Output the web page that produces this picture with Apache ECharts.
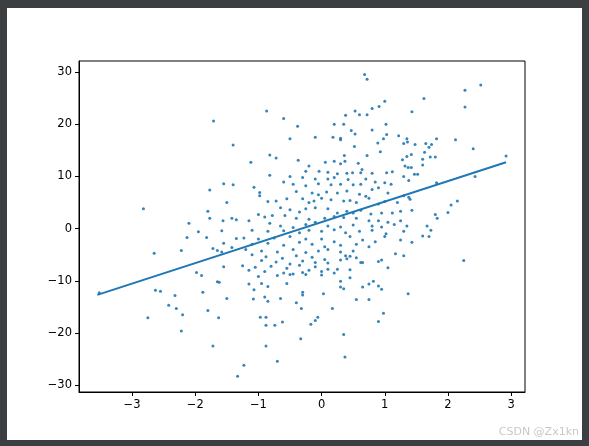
<!DOCTYPE html>
<html><head><meta charset="utf-8">
<script src="https://cdn.jsdelivr.net/npm/echarts@6/dist/echarts.min.js"></script>
<style>
html,body{margin:0;padding:0;background:#3c3f41;width:589px;height:446px;overflow:hidden}
#bg{position:absolute;left:7px;top:8px;width:575px;height:432px;background:#fff}
#c{position:absolute;left:0;top:0;width:589px;height:446px}
#wm{position:absolute;right:10px;bottom:8px;font:11px "DejaVu Sans";color:#c8c8c8}
</style></head><body>
<div id="bg"></div><div id="c"></div><div id="wm">CSDN @Zx1kn</div>
<script>
const points = [[0.68,29.5],[0.72,28.6],[2.52,27.5],[2.27,26.5],[2.27,23.3],[1.62,24.9],[1.0,24.4],[1.43,22.4],[0.91,23.4],[0.8,23.0],[0.53,22.5],[0.6,21.8],[0.72,21.8],[0.38,21.7],[-0.87,22.5],[-0.6,21.1],[-1.71,20.6],[-0.38,19.6],[0.2,20.0],[0.35,20.0],[1.02,20.0],[0.8,18.9],[0.47,18.8],[0.53,18.1],[1.03,18.0],[1.22,17.8],[-0.1,17.5],[0.18,17.5],[0.3,17.3],[0.3,17.0],[-0.5,17.2],[0.98,17.2],[1.35,17.2],[1.36,16.6],[1.82,17.2],[2.12,17.0],[0.89,16.4],[1.3,16.3],[1.48,16.1],[1.65,16.3],[1.74,16.1],[1.7,15.6],[2.4,15.3],[0.52,15.7],[-1.4,16.0],[-0.82,14.1],[-0.72,13.5],[0.36,14.0],[0.72,14.0],[0.93,14.7],[1.28,13.2],[1.35,13.8],[1.42,14.2],[1.63,14.6],[1.72,13.7],[1.8,13.7],[1.6,13.3],[-0.37,13.1],[-1.12,12.7],[0.06,12.7],[0.2,12.9],[0.3,12.4],[0.37,12.9],[0.58,12.5],[0.64,11.3],[1.32,12.0],[1.37,11.7],[1.42,11.7],[1.6,12.2],[-0.2,12.0],[-0.25,11.0],[-0.04,11.0],[0.1,10.8],[0.25,10.5],[0.4,10.6],[0.49,10.7],[0.62,10.7],[0.8,10.6],[1.03,10.7],[1.12,10.9],[1.3,10.0],[1.47,10.4],[1.52,10.4],[-0.82,10.2],[-0.5,10.0],[-0.3,9.8],[-0.1,9.5],[0.1,9.5],[0.2,9.8],[0.42,9.4],[0.7,9.5],[1.38,9.2],[2.43,10.0],[-0.6,8.9],[-0.45,8.5],[-0.25,8.2],[-0.05,8.6],[0.15,8.4],[0.3,8.5],[0.5,8.4],[0.62,8.5],[0.85,8.9],[0.9,7.8],[1.0,8.8],[1.1,8.5],[1.82,8.8],[-1.55,8.6],[-1.4,8.4],[-1.77,7.4],[-1.07,7.9],[-0.98,6.9],[-0.98,6.3],[-0.4,7.1],[-0.15,6.8],[-0.05,6.5],[0.08,7.0],[0.25,6.8],[0.4,7.2],[0.6,6.6],[0.7,6.2],[0.8,7.5],[1.05,6.8],[1.3,6.3],[1.38,6.0],[-1.5,5.0],[-0.85,5.2],[-0.72,5.3],[-0.55,5.7],[-0.3,5.7],[-0.2,5.0],[-0.12,5.3],[0.0,5.8],[0.15,5.5],[0.35,5.3],[0.45,5.4],[0.55,5.0],[0.75,5.8],[0.9,4.7],[1.0,5.2],[1.2,5.0],[1.4,5.6],[2.15,5.3],[2.05,4.5],[-0.65,4.0],[-0.5,3.6],[-0.35,3.2],[-0.25,3.8],[-0.1,4.0],[0.1,3.8],[0.25,3.0],[0.4,3.3],[0.5,3.0],[0.62,3.5],[0.78,2.8],[0.95,3.0],[1.12,3.0],[1.25,3.3],[1.43,3.5],[-2.82,3.8],[-1.8,3.3],[-1.77,2.0],[-1.42,2.0],[-1.35,1.7],[-1.56,1.5],[-1.0,2.7],[-0.9,2.2],[-0.78,2.5],[-0.58,2.5],[-0.4,2.0],[-0.2,1.8],[0.05,2.0],[0.2,2.3],[0.35,2.1],[0.55,2.0],[0.75,1.5],[0.9,1.5],[1.05,1.2],[1.25,1.5],[1.8,2.7],[1.83,2.0],[2.0,3.1],[-2.1,1.0],[-1.15,1.5],[-0.82,1.0],[-0.65,0.5],[-0.45,0.2],[-0.25,0.8],[-0.1,1.2],[0.1,0.5],[0.3,0.3],[0.5,0.7],[0.8,0.5],[0.95,0.3],[1.15,0.8],[1.35,0.5],[1.67,0.5],[-1.58,-0.4],[-1.95,-0.6],[-1.1,-0.3],[-0.85,-0.5],[-0.6,-0.4],[-0.35,-0.8],[-0.2,-0.3],[0.0,-0.5],[0.2,-0.2],[0.38,-0.8],[0.6,-0.5],[0.8,-0.3],[1.02,-1.0],[1.3,-0.5],[1.73,-0.3],[-2.13,-1.7],[-1.82,-1.7],[-1.35,-1.9],[-1.23,-1.8],[-1.0,-2.0],[-0.75,-1.8],[-0.5,-1.5],[-0.25,-2.0],[0.0,-2.0],[0.2,-2.5],[0.45,-1.5],[0.65,-2.2],[0.85,-2.5],[1.0,-1.5],[1.25,-2.2],[1.6,-1.4],[1.7,-1.5],[-1.55,-2.8],[-1.1,-3.0],[-0.85,-2.8],[-0.6,-3.2],[-0.35,-2.6],[-0.15,-3.0],[0.05,-3.5],[0.3,-3.2],[0.55,-3.0],[0.75,-3.5],[1.43,-2.6],[-1.65,-4.2],[-1.72,-3.8],[-1.42,-3.6],[-1.2,-4.0],[-0.95,-4.3],[-0.7,-4.5],[-0.45,-4.0],[-0.25,-4.6],[-0.05,-4.3],[0.1,-4.0],[0.3,-4.5],[0.5,-4.3],[-2.65,-4.7],[-2.22,-4.2],[-1.58,-4.5],[-1.1,-5.0],[-0.88,-5.4],[-0.62,-5.7],[-0.4,-5.2],[-0.15,-5.5],[0.05,-5.9],[0.38,-5.2],[0.4,-5.8],[0.45,-5.3],[0.55,-5.6],[1.3,-5.2],[1.17,-4.8],[2.25,-6.1],[-0.95,-6.1],[-0.72,-6.4],[-0.5,-6.8],[-0.3,-6.2],[-0.1,-6.5],[0.1,-6.6],[0.3,-6.0],[0.62,-6.5],[0.65,-6.5],[0.95,-6.0],[0.9,-6.3],[-1.55,-7.3],[-1.25,-7.1],[-1.05,-7.4],[-0.8,-7.2],[-0.55,-7.6],[-0.35,-7.0],[-0.1,-7.3],[0.1,-7.8],[0.25,-7.8],[0.45,-7.9],[1.05,-7.5],[-1.15,-8.0],[-0.9,-8.2],[-0.6,-8.5],[-0.45,-8.7],[-0.3,-8.4],[-0.2,-8.0],[0.0,-8.2],[-1.98,-8.4],[-1.9,-9.0],[-1.0,-9.2],[-0.7,-9.0],[-0.5,-8.8],[-0.25,-8.8],[0.0,-8.9],[0.2,-8.5],[0.45,-9.4],[-1.65,-10.2],[-1.62,-10.3],[-1.15,-10.6],[-0.95,-10.5],[-0.55,-10.5],[-0.85,-11.1],[-1.07,-11.7],[0.3,-10.1],[0.75,-10.6],[0.82,-10.1],[0.3,-11.2],[0.35,-11.5],[0.65,-11.2],[0.9,-11.0],[0.95,-11.6],[-2.63,-11.8],[-2.55,-12.0],[-1.88,-12.2],[-0.3,-12.2],[-0.3,-12.7],[0.03,-12.5],[1.37,-12.5],[-2.32,-12.8],[-1.5,-13.4],[-1.08,-13.5],[-0.9,-13.1],[-0.85,-13.9],[-0.65,-13.4],[0.55,-13.6],[0.75,-13.6],[-2.42,-14.7],[-2.3,-15.3],[-0.4,-14.2],[-0.32,-15.3],[0.17,-15.3],[-1.8,-15.7],[-2.2,-16.5],[-2.75,-17.1],[-1.63,-17.1],[-0.97,-17.0],[-0.88,-17.0],[-0.06,-17.0],[-0.1,-17.6],[0.98,-16.2],[0.9,-17.8],[-0.62,-17.9],[-0.17,-18.3],[-0.88,-18.5],[-0.74,-18.5],[-2.22,-19.6],[0.35,-20.3],[-0.33,-21.1],[-1.72,-22.5],[-0.88,-22.5],[-1.23,-26.2],[-0.7,-25.4],[0.37,-24.6],[-1.33,-28.3],[2.92,13.9],[-3.52,-12.3]];
const fitX = [-3.55, 2.92];
const fitY = [-12.7, 12.7];
const xTicks = [-3,-2,-1,0,1,2,3];
const yTicks = [-30,-20,-10,0,10,20,30];

const fmt = v => (v<0 ? '\u2212'+Math.abs(v) : String(v));
const chart = echarts.init(document.getElementById('c'), null, {renderer:'canvas'});
const font = {fontFamily:'DejaVu Sans', fontSize:11.5, color:'#000'};
chart.setOption({
  animation:false,
  backgroundColor:'transparent',
  grid:{left:79, right:64, top:61, bottom:54, show:true, borderColor:'#000', borderWidth:1, backgroundColor:'transparent'},
  xAxis:{type:'value', min:-3.84, max:3.22, splitLine:{show:false},
    axisLine:{show:true, onZero:false, lineStyle:{color:'#000'}},
    axisTick:{show:true, length:4, inside:false, lineStyle:{color:'#000'}, customValues:xTicks},
    axisLabel:{...font, margin:7, formatter:fmt, customValues:xTicks}},
  yAxis:{type:'value', min:-31.3, max:32.1, splitLine:{show:false},
    axisLine:{show:true, onZero:false, lineStyle:{color:'#000'}},
    axisTick:{show:true, length:4, inside:false, lineStyle:{color:'#000'}, customValues:yTicks},
    axisLabel:{...font, margin:7, formatter:fmt, customValues:yTicks}},
  series:[
    {type:'scatter', data:points, symbolSize:3, itemStyle:{color:'#1f77b4', opacity:0.9}},
    {type:'line', data:fitX.map((x,i)=>[x,fitY[i]]), symbol:'none', lineStyle:{color:'#1f77b4', width:2}}
  ]
});
</script></body></html>
